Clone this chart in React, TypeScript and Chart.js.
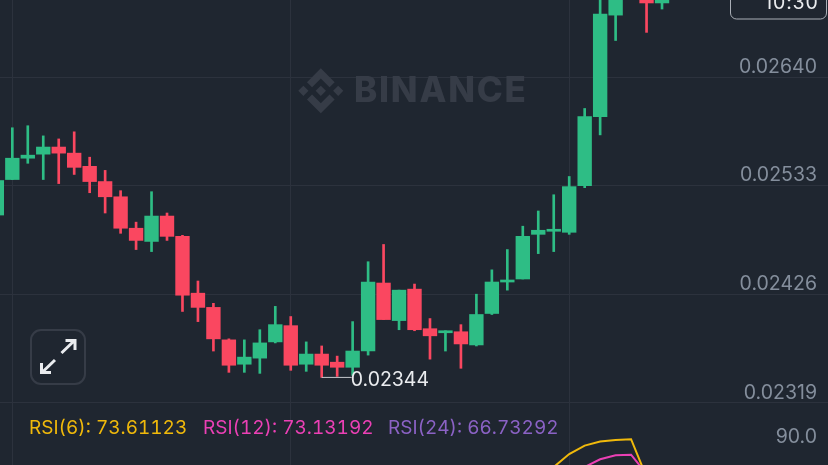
import { useEffect, useRef } from "react";
import { Chart } from "chart.js/auto";

const open = [0.02504,0.02539,0.0256,0.02564,0.02571,0.02565,0.02552,0.02537,0.02522,0.02491,0.02478,0.02503,0.02483,0.02427,0.02413,0.02381,0.02357,0.02363,0.02379,0.02395,0.02357,0.02367,0.02359,0.02354,0.0237,0.02437,0.024,0.02431,0.02392,0.02388,0.02389,0.02376,0.02407,0.02438,0.02441,0.02485,0.02488,0.02487,0.02533,0.02601,0.02701,0.0273,0.0274,0.02713];
const high = [0.02545,0.0259,0.02592,0.02582,0.02579,0.02586,0.02561,0.02548,0.02528,0.02497,0.02527,0.02506,0.02484,0.02439,0.02417,0.02382,0.02381,0.02391,0.02414,0.02404,0.02379,0.02375,0.02365,0.02399,0.02458,0.02475,0.0243,0.02436,0.02402,0.0239,0.02396,0.02426,0.0245,0.0247,0.02493,0.02508,0.02524,0.02542,0.02609,0.0273,0.02775,0.02765,0.0275,0.0274];
const low = [0.025,0.02539,0.02555,0.02539,0.02535,0.02544,0.02526,0.02506,0.02486,0.0247,0.02468,0.02479,0.02409,0.02399,0.0237,0.02349,0.02349,0.02348,0.02378,0.02351,0.0235,0.02344,0.02345,0.02346,0.02366,0.02401,0.02391,0.0239,0.02362,0.0237,0.02353,0.02375,0.02406,0.0243,0.02441,0.02466,0.02468,0.02485,0.02531,0.02583,0.02676,0.0272,0.02684,0.02707];
const close = [0.02538,0.0256,0.02563,0.02571,0.02565,0.02551,0.02537,0.02522,0.02491,0.02479,0.02503,0.02483,0.02425,0.02413,0.02382,0.02356,0.02364,0.02378,0.02396,0.02356,0.02367,0.02356,0.02354,0.0237,0.02438,0.02401,0.0243,0.02391,0.02385,0.0239,0.02377,0.02406,0.02438,0.0244,0.02483,0.02489,0.0249,0.02532,0.02601,0.02702,0.0276,0.02755,0.02713,0.0273];
const priceTicks = [0.0264, 0.02533, 0.02426, 0.02319];
const rsiTicks = [90];
const rsiStart = 36;
const rsi6 = [80.5, 87, 91.2, 93.2, 94, 94.4, 75.5, 73.61123];
const rsi12 = [72, 76, 80.5, 84.35, 86.35, 86.65, 77, 73.13192];
const rsi24 = [60, 64, 68, 71, 73, 74, 70, 66.73292];
const legendItems = ["RSI(6): 73.61123", "RSI(12): 73.13192", "RSI(24): 66.73292"];
const countdown = "10:30";
const gridIndexes = [1, 19, 37];

const UP = "#2EBD85";
const DOWN = "#FA4760";
const BG = "#1F2630";
const GRID = "#2C323D";
const AXIS = "#848E9C";
const FONT = "Inter";
const LEGEND_COLORS = ["#F0B90B", "#EB40B5", "#8B62C5"];
const LEGEND_X = [29, 203, 388];

const overlay = {
  id: "overlay",
  beforeDatasetsDraw(chart: any) {
    const c = chart.ctx;
    c.save();
    c.fillStyle = "#363C47";
    c.font = `800 35px ${FONT}`;
    c.letterSpacing = "1.8px";
    c.textBaseline = "middle";
    c.textAlign = "left";
    c.fillText("BINANCE", 354, 91);
    c.letterSpacing = "0px";
    const s = 45 / 126.61;
    const ox = 298.3;
    const oy = 68.3;
    const polys = [
      [38.73,53.2,63.31,28.63,87.9,53.22,102.2,38.92,63.31,0,24.42,38.9],
      [38.73,73.41,63.31,97.99,87.9,73.4,102.2,87.69,63.31,126.61,24.42,87.71],
      [0,63.31,14.3,49,28.6,63.31,14.3,77.6],
      [98,63.31,112.31,49,126.61,63.31,112.31,77.6],
      [48.8,63.31,63.31,48.8,77.8,63.31,63.31,77.8],
    ];
    for (const p of polys) {
      c.beginPath();
      for (let i = 0; i < p.length; i += 2) c.lineTo(ox + p[i] * s, oy + p[i + 1] * s);
      c.closePath();
      c.fill();
    }
    c.restore();
  },
  afterDraw(chart: any) {
    const c = chart.ctx;
    const sx = chart.scales.x;
    const sy = chart.scales.y;
    c.save();
    c.textBaseline = "middle";
    c.font = `400 19.5px ${FONT}`;

    // lowest price marker
    const minVal = Math.min(...low);
    const minIdx = low.indexOf(minVal);
    const mx = sx.getPixelForValue(minIdx);
    const my = sy.getPixelForValue(minVal);
    c.strokeStyle = "#C4C7CC";
    c.lineWidth = 1;
    c.beginPath();
    c.moveTo(mx, my);
    c.lineTo(mx + 30, my);
    c.stroke();
    c.fillStyle = "#EAECEF";
    c.textAlign = "left";
    c.fillText(minVal.toFixed(5), mx + 29, my + 3);

    // countdown tag
    c.strokeStyle = "#A9AEB6";
    c.lineWidth = 1;
    c.beginPath();
    c.roundRect(730.5, -30, 96, 49, 6);
    c.stroke();
    c.fillStyle = "#EAECEF";
    c.textAlign = "right";
    c.letterSpacing = "0.8px";
    c.fillText(countdown, 818.5, 3);
    c.letterSpacing = "0px";

    // expand button
    c.strokeStyle = "#363C47";
    c.lineWidth = 2;
    c.beginPath();
    c.roundRect(31, 330, 54, 54, 10);
    c.stroke();
    c.strokeStyle = "#EAECEF";
    c.lineWidth = 3;
    c.beginPath();
    c.moveTo(61.5, 353);
    c.lineTo(74, 341);
    c.moveTo(65.5, 340.5);
    c.lineTo(75, 340.5);
    c.lineTo(75, 350);
    c.moveTo(55, 360);
    c.lineTo(42.5, 372);
    c.moveTo(51, 372.5);
    c.lineTo(41.5, 372.5);
    c.lineTo(41.5, 363);
    c.stroke();
    c.restore();
  },
};

const fitY = (s: any) => {
  s.width = 0;
  s.paddingTop = 0;
  s.paddingBottom = 0;
  s.paddingLeft = 0;
  s.paddingRight = 0;
};
const fitX = (s: any) => {
  s.height = 0;
  s.paddingTop = 0;
  s.paddingBottom = 0;
  s.paddingLeft = 0;
  s.paddingRight = 0;
};

export default function App() {
  const ref = useRef<HTMLCanvasElement>(null);
  useEffect(() => {
    document.body.style.margin = "0";
    document.body.style.background = BG;
    const colorOf = open.map((o, i) => (close[i] >= o ? UP : DOWN));
    const line = (vals: number[], color: string) => ({
      type: "line" as const,
      data: vals.map((v, i) => ({ x: rsiStart + i, y: v })),
      yAxisID: "rsi",
      borderColor: color,
      borderWidth: 2,
      pointRadius: 0,
      tension: 0,
      order: 1,
      clip: false,
    });
    const chart = new Chart(ref.current!, {
      type: "bar",
      data: {
        datasets: [
          {
            data: open.map((_, i) => ({ x: i, y: [low[i], high[i]] })),
            backgroundColor: colorOf,
            barThickness: 2,
            grouped: false,
            order: 3,
            yAxisID: "y",
          },
          {
            data: open.map((o, i) => ({ x: i, y: [o, close[i]] })),
            backgroundColor: colorOf,
            barThickness: 13.7,
            grouped: false,
            order: 2,
            yAxisID: "y",
          },
          line(rsi6, LEGEND_COLORS[0]),
          line(rsi12, LEGEND_COLORS[1]),
          line(rsi24, LEGEND_COLORS[2]),
        ] as any,
      },
      options: {
        animation: false,
        responsive: false,
        layout: { padding: 0 },
        plugins: { legend: { display: false }, tooltip: { enabled: false } },
        scales: {
          x: {
            type: "linear",
            offset: false,
            min: 0.2036,
            max: 53.73,
            afterFit: fitX,
            grid: { color: GRID, lineWidth: 1, offset: false, drawTicks: false },
            border: { display: false },
            ticks: { display: false },
            afterBuildTicks: (s: any) => {
              s.ticks = gridIndexes.map((value) => ({ value }));
            },
          },
          y: {
            type: "linear",
            position: "right",
            min: 0.022577,
            max: 0.027159,
            afterFit: fitY,
            grid: { color: GRID, lineWidth: 1, drawTicks: false },
            border: { display: false },
            afterBuildTicks: (s: any) => {
              s.ticks = priceTicks.map((value) => ({ value }));
            },
            ticks: {
              mirror: true,
              padding: -11,
              labelOffset: -10,
              color: AXIS,
              font: { family: FONT, size: 19.5 },
              callback: (v: any) => Number(v).toFixed(5),
            },
          },
          rsi: {
            type: "linear",
            position: "right",
            min: 81.5,
            max: 314,
            afterFit: fitY,
            grid: { display: false, drawTicks: false },
            border: { display: false },
            afterBuildTicks: (s: any) => {
              s.ticks = rsiTicks.map((value) => ({ value }));
            },
            ticks: {
              mirror: true,
              padding: -11,
              labelOffset: -11,
              color: AXIS,
              font: { family: FONT, size: 19.5 },
              callback: (v: any) => Number(v).toFixed(1),
            },
          },
        },
      } as any,
      plugins: [overlay],
    });
    return () => chart.destroy();
  }, []);
  return (
    <div style={{ position: "relative", width: 828, height: 465, overflow: "hidden" }}>
      <canvas ref={ref} width={828} height={465} style={{ display: "block", background: BG }} />
      {legendItems.map((t, i) => (
        <span
          key={t}
          style={{
            position: "absolute",
            left: LEGEND_X[i],
            top: 416,
            lineHeight: "24px",
            fontFamily: FONT,
            fontSize: 19,
            fontVariantNumeric: "tabular-nums",
            color: LEGEND_COLORS[i],
            whiteSpace: "nowrap",
          }}
        >
          {t}
        </span>
      ))}
    </div>
  );
}
